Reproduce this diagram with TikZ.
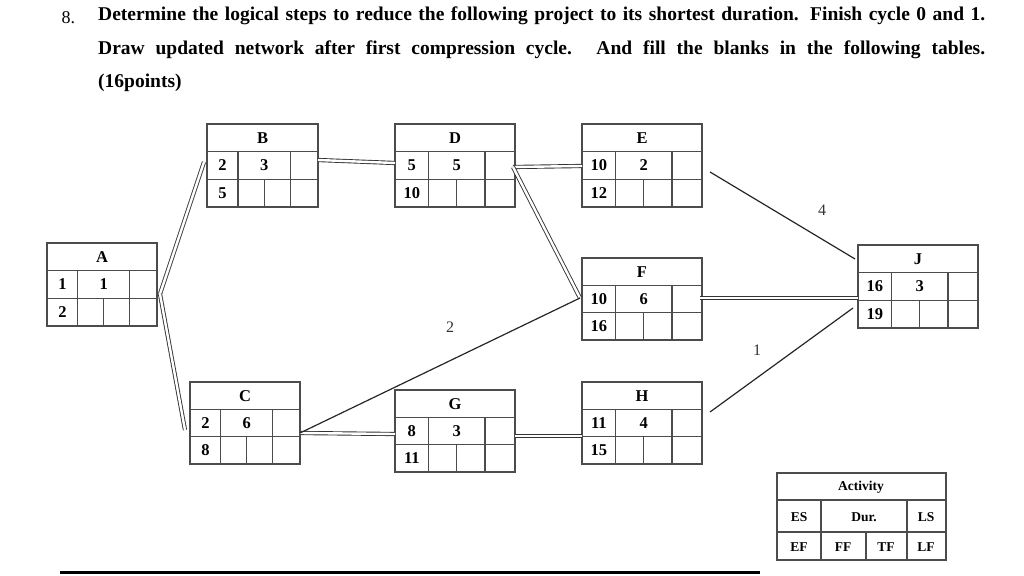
\documentclass[tikz,border=0pt]{standalone}
\usepackage{fontspec}
\usetikzlibrary{calc}
\setmainfont{Liberation Serif}
\newcommand\actbox[9]{%
  \pgfmathsetmacro\bxa{#2+0.28*#4}%
  \pgfmathsetmacro\bxc{#2+0.75*#4}%
  \pgfmathsetmacro\bxb{(\bxa+\bxc)/2}%
  \pgfmathsetmacro\bxr{#2+#4}%
  \pgfmathsetmacro\byb{#3+#5}%
  \pgfmathsetmacro\byt{#3+#5/3}%
  \pgfmathsetmacro\bym{#3+2*#5/3}%
  \node[boxframe, minimum width=#4, minimum height=#5, anchor=north west] (#1) at (#2,#3) {};
  \draw[cellline] (#2,\byt) -- (\bxr,\byt) (#2,\bym) -- (\bxr,\bym)
     (\bxa,\byt) -- (\bxa,\byb) (\bxc,\byt) -- (\bxc,\byb) (\bxb,\bym) -- (\bxb,\byb);
  \node[boxtext] at ({#2+#4/2},{#3+#5/6}) {#6};
  \node[boxtext] at ({(#2+\bxa)/2},{#3+#5/2}) {#7};
  \node[boxtext] at ({(\bxa+\bxc)/2},{#3+#5/2}) {#8};
  \node[boxtext] at ({(#2+\bxa)/2},{#3+5*#5/6}) {#9};
}
\begin{document}
\begin{tikzpicture}[x=1pt,y=-1pt,
  boxframe/.style={draw=black!70, line width=1.2pt, inner sep=0pt, outer sep=0pt},
  cellline/.style={draw=black!70, line width=1.2pt},
  boxtext/.style={font=\fontsize{16.5}{16.5}\selectfont\bfseries, inner sep=0pt},
  dbl/.style={draw=black!80, double=white, double distance=2.4pt, line width=0.9pt},
  sgl/.style={draw=black!85, line width=1.2pt},
  lbl/.style={font=\fontsize{16}{16}\selectfont, text=black!80}]
\useasboundingbox (0,0) rectangle (1024,575);
\node[anchor=base west, font=\fontsize{18}{18}\selectfont] (num) at (58,24) {8.};
\node[anchor=north west, inner sep=0pt, text width=887pt, align=justify,
  font=\fontsize{19.5}{33.5}\selectfont\bfseries] (q) at (98,7)
 {Determine the logical steps to reduce the following project to its shortest duration. Finish cycle 0 and 1.\linebreak Draw updated network after first compression cycle. And fill the blanks in the following tables.\linebreak (16points)};
\actbox{A}{47}{243}{110}{83}{A}{1}{1}{2}
\actbox{B}{207}{124}{111}{83}{B}{2}{3}{5}
\actbox{C}{190}{382}{110}{82}{C}{2}{6}{8}
\actbox{D}{395}{124}{120}{83}{D}{5}{5}{10}
\actbox{E}{582}{124}{120}{83}{E}{10}{2}{12}
\actbox{F}{582}{258}{120}{82}{F}{10}{6}{16}
\actbox{G}{395}{390}{120}{82}{G}{8}{3}{11}
\actbox{H}{582}{382}{120}{82}{H}{11}{4}{15}
\actbox{J}{858}{245}{120}{83}{J}{16}{3}{19}
% legend
\node[boxframe, minimum width=169, minimum height=87, anchor=north west] (L) at (777,473) {};
\draw[cellline] (777,500) -- (946,500) (777,532) -- (946,532)
  (821,500) -- (821,560) (907,500) -- (907,560) (866,532) -- (866,560);
\node[boxtext, font=\fontsize{13.5}{13.5}\selectfont\bfseries] at (861,487) {Activity};
\node[boxtext, font=\fontsize{13.5}{13.5}\selectfont\bfseries] at (799,517) {ES};
\node[boxtext, font=\fontsize{13.5}{13.5}\selectfont\bfseries] at (864,517) {Dur.};
\node[boxtext, font=\fontsize{13.5}{13.5}\selectfont\bfseries] at (926,517) {LS};
\node[boxtext, font=\fontsize{13.5}{13.5}\selectfont\bfseries] at (799,547) {EF};
\node[boxtext, font=\fontsize{13.5}{13.5}\selectfont\bfseries] at (843,547) {FF};
\node[boxtext, font=\fontsize{13.5}{13.5}\selectfont\bfseries] at (886,547) {TF};
\node[boxtext, font=\fontsize{13.5}{13.5}\selectfont\bfseries] at (926,547) {LF};
% connectors
\coordinate (Aout) at (160,294);
\coordinate (Bin) at (204,162);
\coordinate (Cin) at (185,430);
\coordinate (Bout) at (318,160);
\coordinate (Din) at (395,163);
\coordinate (Dout) at (513,167);
\coordinate (Ein) at (582,166);
\coordinate (Fin) at (580,298);
\coordinate (Cout) at (300,433);
\coordinate (Gin) at (395,434);
\coordinate (Gout) at (515,436);
\coordinate (Hin) at (582,436);
\coordinate (Eout) at (710,172);
\coordinate (Jin1) at (855,259);
\coordinate (Fout) at (700,298);
\coordinate (Jin2) at (858,298);
\coordinate (Hout) at (710,412);
\coordinate (Jin3) at (853,308);
\draw[dbl] (Aout) -- (Bin);
\draw[dbl] (Aout) -- (Cin);
\draw[dbl] (Bout) -- (Din);
\draw[dbl] (Dout) -- (Ein);
\draw[dbl] (Dout) -- (Fin);
\draw[dbl] (Cout) -- (Gin);
\draw[sgl] (Cout) -- (Fin);
\node[lbl] (l2) at (450,327) {2};
\draw[dbl] (Gout) -- (Hin);
\draw[sgl] (Eout) -- (Jin1);
\node[lbl] (l4) at (822,210) {4};
\draw[dbl] (Fout) -- (Jin2);
\draw[sgl] (Hout) -- (Jin3);
\node[lbl] (l1) at (757,350) {1};
\draw[line width=3pt] (60,572) -- (760,572);
\end{tikzpicture}
\end{document}
